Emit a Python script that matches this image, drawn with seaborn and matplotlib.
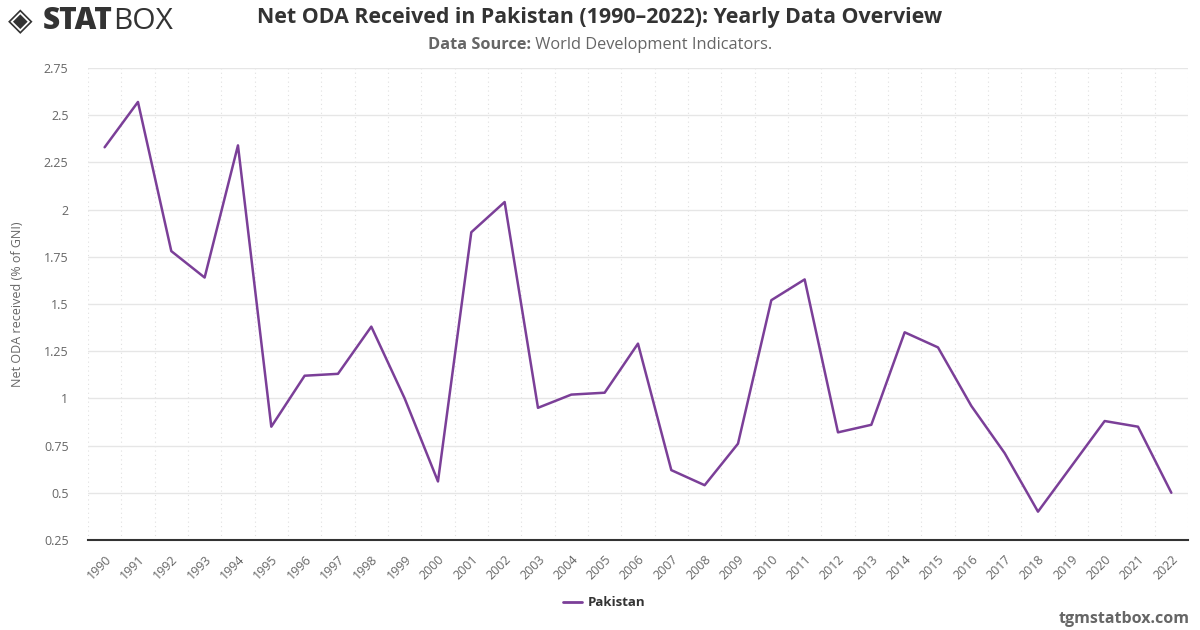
import matplotlib
matplotlib.use("Agg")
import matplotlib.pyplot as plt
import seaborn as sns
import pandas as pd
import numpy as np
from matplotlib.ticker import FixedLocator

years = [str(y) for y in range(1990, 2023)]
values = [2.33, 2.57, 1.78, 1.64, 2.34, 0.85, 1.12, 1.13, 1.38, 1.00,
          0.56, 1.88, 2.04, 0.95, 1.02, 1.03, 1.29, 0.62, 0.54, 0.76,
          1.52, 1.63, 0.82, 0.86, 1.35, 1.27, 0.96, 0.71, 0.40, 0.64,
          0.88, 0.85, 0.50]
yticks = [0.25, 0.5, 0.75, 1, 1.25, 1.5, 1.75, 2, 2.25, 2.5, 2.75]
ytick_labels = ["0.25", "0.5", "0.75", "1", "1.25", "1.5", "1.75", "2", "2.25", "2.5", "2.75"]
series_name = "Pakistan"

sns.set_theme(style="white")
plt.rcParams['font.family'] = ['Open Sans', 'DejaVu Sans']

df = pd.DataFrame({"pos": np.arange(len(years)), "value": values, "Country": series_name})

fig = plt.figure(figsize=(12, 6.3), dpi=100)
ax = fig.add_axes([0.0733, 0.1429, 0.9167, 0.7492])
color = "#7B3F98"
sns.lineplot(data=df, x="pos", y="value", hue="Country", palette=[color],
             linewidth=1.8, ax=ax, legend=False)

ax.set_xlim(-0.5, len(years) - 0.5)
ax.set_ylim(0.25, 2.75)
ax.yaxis.set_major_locator(FixedLocator(yticks))
ax.set_yticklabels(ytick_labels)
ax.set_xticks(np.arange(len(years)))
ax.set_xticklabels(years, rotation=45, ha="right", rotation_mode="anchor")
ax.xaxis.set_minor_locator(FixedLocator(np.arange(-0.5, len(years), 1)))

ax.grid(axis="y", which="major", color="#e6e6e6", linewidth=1)
ax.grid(axis="x", which="minor", color="#e0e0e0", linestyle=(0, (1, 3)), linewidth=0.8)
ax.set_axisbelow(True)

for s in ["top", "right", "left"]:
    ax.spines[s].set_visible(False)
ax.spines["bottom"].set_color("#333333")
ax.spines["bottom"].set_linewidth(1.5)

ax.tick_params(axis="both", which="both", length=0, labelsize=9, colors="#666666")
ax.tick_params(axis="x", pad=9)
ax.tick_params(axis="y", pad=14)
ax.set_xlabel("")
ax.set_ylabel("Net ODA received (% of GNI)", fontsize=9, color="#666666", labelpad=14)

fig.text(0.5, 0.972, "Net ODA Received in Pakistan (1990\u20132022): Yearly Data Overview",
         ha="center", va="center", fontsize=15.4, fontweight="bold", color="#333333")

renderer = fig.canvas.get_renderer()
t1 = fig.text(0, 0.928, "Data Source:", ha="left", va="center", fontsize=11.8,
              fontweight="bold", color="#666666")
t2 = fig.text(0, 0.928, " World Development Indicators.", ha="left", va="center",
              fontsize=11.8, color="#666666")
w1 = t1.get_window_extent(renderer).width
w2 = t2.get_window_extent(renderer).width
W = fig.bbox.width
x0 = (W - (w1 + w2)) / 2
t1.set_x(x0 / W)
t2.set_x((x0 + w1) / W)

# logo
fig.text(0.007, 0.966, "\u25c8", ha="left", va="center", fontsize=23, color="#333333",
         family=["DejaVu Sans"])
ts = fig.text(0.036, 0.966, "STAT", ha="left", va="center", fontsize=21.5, fontweight="heavy",
              color="#333333")
ws = ts.get_window_extent(renderer).width
fig.text(0.036 + ws / W, 0.966, "BOX", ha="left", va="center", fontsize=21.5, color="#333333")

# legend
fig.lines.append(plt.Line2D([0.469, 0.485], [0.044, 0.044], color=color, linewidth=2,
                            transform=fig.transFigure))
fig.text(0.4895, 0.044, series_name, ha="left", va="center", fontsize=9.5,
         fontweight="bold", color="#333333")

fig.text(0.991, 0.017, "tgmstatbox.com", ha="right", va="center", fontsize=11.5,
         fontweight="bold", color="#666666")

fig.savefig("out.png", dpi=100)
